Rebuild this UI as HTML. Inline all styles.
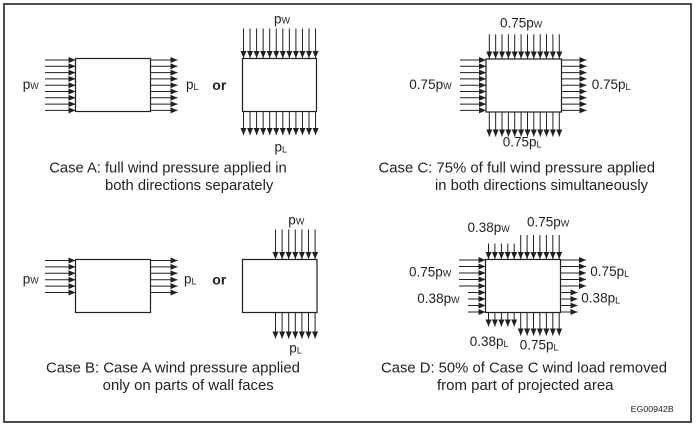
<!DOCTYPE html>
<html><head><meta charset="utf-8">
<style>
html,body{margin:0;padding:0;background:#fff;}
svg{display:block;}
text{font-family:"Liberation Sans",Arial,sans-serif;fill:#231f20;}
.l{font-size:13.5px;}
.c{font-size:14.7px;}
</style></head>
<body>
<svg width="696" height="427" viewBox="0 0 696 427" xmlns="http://www.w3.org/2000/svg">
<defs>
<marker id="a" markerWidth="8" markerHeight="7" refX="7" refY="3" orient="auto" markerUnits="userSpaceOnUse">
<path d="M0,0 L7,3 L0,6 z" fill="#231f20"/>
</marker>
</defs>
<rect x="4" y="4" width="687" height="418" fill="none" stroke="#231f20" stroke-width="1.6"/>

<g stroke="#231f20" stroke-width="1" fill="none" marker-end="url(#a)">
<line x1="45" y1="60" x2="75.5" y2="60"/>
<line x1="45" y1="66.3" x2="75.5" y2="66.3"/>
<line x1="45" y1="72.6" x2="75.5" y2="72.6"/>
<line x1="45" y1="78.9" x2="75.5" y2="78.9"/>
<line x1="45" y1="85.2" x2="75.5" y2="85.2"/>
<line x1="45" y1="91.5" x2="75.5" y2="91.5"/>
<line x1="45" y1="97.8" x2="75.5" y2="97.8"/>
<line x1="45" y1="104.1" x2="75.5" y2="104.1"/>
<line x1="45" y1="110.4" x2="75.5" y2="110.4"/>
<line x1="150.5" y1="60" x2="177.5" y2="60"/>
<line x1="150.5" y1="66.3" x2="177.5" y2="66.3"/>
<line x1="150.5" y1="72.6" x2="177.5" y2="72.6"/>
<line x1="150.5" y1="78.9" x2="177.5" y2="78.9"/>
<line x1="150.5" y1="85.2" x2="177.5" y2="85.2"/>
<line x1="150.5" y1="91.5" x2="177.5" y2="91.5"/>
<line x1="150.5" y1="97.8" x2="177.5" y2="97.8"/>
<line x1="150.5" y1="104.1" x2="177.5" y2="104.1"/>
<line x1="150.5" y1="110.4" x2="177.5" y2="110.4"/>

<line x1="243.5" y1="28.5" x2="243.5" y2="58"/>
<line x1="250.05" y1="28.5" x2="250.05" y2="58"/>
<line x1="256.6" y1="28.5" x2="256.6" y2="58"/>
<line x1="263.15" y1="28.5" x2="263.15" y2="58"/>
<line x1="269.7" y1="28.5" x2="269.7" y2="58"/>
<line x1="276.25" y1="28.5" x2="276.25" y2="58"/>
<line x1="282.8" y1="28.5" x2="282.8" y2="58"/>
<line x1="289.35" y1="28.5" x2="289.35" y2="58"/>
<line x1="295.9" y1="28.5" x2="295.9" y2="58"/>
<line x1="302.45" y1="28.5" x2="302.45" y2="58"/>
<line x1="309" y1="28.5" x2="309" y2="58"/>
<line x1="315.55" y1="28.5" x2="315.55" y2="58"/>
<line x1="243.5" y1="111.5" x2="243.5" y2="135"/>
<line x1="250.05" y1="111.5" x2="250.05" y2="135"/>
<line x1="256.6" y1="111.5" x2="256.6" y2="135"/>
<line x1="263.15" y1="111.5" x2="263.15" y2="135"/>
<line x1="269.7" y1="111.5" x2="269.7" y2="135"/>
<line x1="276.25" y1="111.5" x2="276.25" y2="135"/>
<line x1="282.8" y1="111.5" x2="282.8" y2="135"/>
<line x1="289.35" y1="111.5" x2="289.35" y2="135"/>
<line x1="295.9" y1="111.5" x2="295.9" y2="135"/>
<line x1="302.45" y1="111.5" x2="302.45" y2="135"/>
<line x1="309" y1="111.5" x2="309" y2="135"/>
<line x1="315.55" y1="111.5" x2="315.55" y2="135"/>

<line x1="460" y1="60" x2="486" y2="60"/>
<line x1="460" y1="66.3" x2="486" y2="66.3"/>
<line x1="460" y1="72.6" x2="486" y2="72.6"/>
<line x1="460" y1="78.9" x2="486" y2="78.9"/>
<line x1="460" y1="85.2" x2="486" y2="85.2"/>
<line x1="460" y1="91.5" x2="486" y2="91.5"/>
<line x1="460" y1="97.8" x2="486" y2="97.8"/>
<line x1="460" y1="104.1" x2="486" y2="104.1"/>
<line x1="460" y1="110.4" x2="486" y2="110.4"/>
<line x1="561.5" y1="60" x2="586.5" y2="60"/>
<line x1="561.5" y1="66.3" x2="586.5" y2="66.3"/>
<line x1="561.5" y1="72.6" x2="586.5" y2="72.6"/>
<line x1="561.5" y1="78.9" x2="586.5" y2="78.9"/>
<line x1="561.5" y1="85.2" x2="586.5" y2="85.2"/>
<line x1="561.5" y1="91.5" x2="586.5" y2="91.5"/>
<line x1="561.5" y1="97.8" x2="586.5" y2="97.8"/>
<line x1="561.5" y1="104.1" x2="586.5" y2="104.1"/>
<line x1="561.5" y1="110.4" x2="586.5" y2="110.4"/>
<line x1="489.3" y1="34.3" x2="489.3" y2="58.5"/>
<line x1="495.66" y1="34.3" x2="495.66" y2="58.5"/>
<line x1="502.0" y1="34.3" x2="502.0" y2="58.5"/>
<line x1="508.4" y1="34.3" x2="508.4" y2="58.5"/>
<line x1="514.7" y1="34.3" x2="514.7" y2="58.5"/>
<line x1="521.1" y1="34.3" x2="521.1" y2="58.5"/>
<line x1="527.5" y1="34.3" x2="527.5" y2="58.5"/>
<line x1="533.8" y1="34.3" x2="533.8" y2="58.5"/>
<line x1="540.2" y1="34.3" x2="540.2" y2="58.5"/>
<line x1="546.5" y1="34.3" x2="546.5" y2="58.5"/>
<line x1="552.9" y1="34.3" x2="552.9" y2="58.5"/>
<line x1="559.3" y1="34.3" x2="559.3" y2="58.5"/>
<line x1="489.3" y1="112" x2="489.3" y2="136.5"/>
<line x1="495.66" y1="112" x2="495.66" y2="136.5"/>
<line x1="502.0" y1="112" x2="502.0" y2="136.5"/>
<line x1="508.4" y1="112" x2="508.4" y2="136.5"/>
<line x1="514.7" y1="112" x2="514.7" y2="136.5"/>
<line x1="521.1" y1="112" x2="521.1" y2="136.5"/>
<line x1="527.5" y1="112" x2="527.5" y2="136.5"/>
<line x1="533.8" y1="112" x2="533.8" y2="136.5"/>
<line x1="540.2" y1="112" x2="540.2" y2="136.5"/>
<line x1="546.5" y1="112" x2="546.5" y2="136.5"/>
<line x1="552.9" y1="112" x2="552.9" y2="136.5"/>
<line x1="559.3" y1="112" x2="559.3" y2="136.5"/>

<line x1="45" y1="260.5" x2="75.5" y2="260.5"/>
<line x1="45" y1="266.9" x2="75.5" y2="266.9"/>
<line x1="45" y1="273.3" x2="75.5" y2="273.3"/>
<line x1="45" y1="279.7" x2="75.5" y2="279.7"/>
<line x1="45" y1="286.1" x2="75.5" y2="286.1"/>
<line x1="45" y1="292.5" x2="75.5" y2="292.5"/>
<line x1="150.5" y1="260.5" x2="177.5" y2="260.5"/>
<line x1="150.5" y1="266.9" x2="177.5" y2="266.9"/>
<line x1="150.5" y1="273.3" x2="177.5" y2="273.3"/>
<line x1="150.5" y1="279.7" x2="177.5" y2="279.7"/>
<line x1="150.5" y1="286.1" x2="177.5" y2="286.1"/>
<line x1="150.5" y1="292.5" x2="177.5" y2="292.5"/>
<line x1="275.5" y1="229.5" x2="275.5" y2="259"/>
<line x1="282.1" y1="229.5" x2="282.1" y2="259"/>
<line x1="288.7" y1="229.5" x2="288.7" y2="259"/>
<line x1="295.3" y1="229.5" x2="295.3" y2="259"/>
<line x1="301.9" y1="229.5" x2="301.9" y2="259"/>
<line x1="308.5" y1="229.5" x2="308.5" y2="259"/>
<line x1="315.1" y1="229.5" x2="315.1" y2="259"/>
<line x1="275.5" y1="312.5" x2="275.5" y2="338.5"/>
<line x1="282.1" y1="312.5" x2="282.1" y2="338.5"/>
<line x1="288.7" y1="312.5" x2="288.7" y2="338.5"/>
<line x1="295.3" y1="312.5" x2="295.3" y2="338.5"/>
<line x1="301.9" y1="312.5" x2="301.9" y2="338.5"/>
<line x1="308.5" y1="312.5" x2="308.5" y2="338.5"/>
<line x1="315.1" y1="312.5" x2="315.1" y2="338.5"/>

<line x1="459" y1="260" x2="485.5" y2="260"/>
<line x1="459" y1="266.5" x2="485.5" y2="266.5"/>
<line x1="459" y1="273" x2="485.5" y2="273"/>
<line x1="459" y1="279.5" x2="485.5" y2="279.5"/>
<line x1="459" y1="286" x2="485.5" y2="286"/>
<line x1="468" y1="292.5" x2="485.5" y2="292.5"/>
<line x1="468" y1="299" x2="485.5" y2="299"/>
<line x1="468" y1="305.5" x2="485.5" y2="305.5"/>
<line x1="468" y1="312" x2="485.5" y2="312"/>
<line x1="560.5" y1="260" x2="586" y2="260"/>
<line x1="560.5" y1="266.5" x2="586" y2="266.5"/>
<line x1="560.5" y1="273" x2="586" y2="273"/>
<line x1="560.5" y1="279.5" x2="586" y2="279.5"/>
<line x1="560.5" y1="286" x2="586" y2="286"/>
<line x1="560.5" y1="292.5" x2="577.5" y2="292.5"/>
<line x1="560.5" y1="299" x2="577.5" y2="299"/>
<line x1="560.5" y1="305.5" x2="577.5" y2="305.5"/>
<line x1="560.5" y1="312" x2="577.5" y2="312"/>
<line x1="488.5" y1="243.5" x2="488.5" y2="259"/>
<line x1="494.9" y1="243.5" x2="494.9" y2="259"/>
<line x1="501.4" y1="243.5" x2="501.4" y2="259"/>
<line x1="507.8" y1="243.5" x2="507.8" y2="259"/>
<line x1="514.2" y1="243.5" x2="514.2" y2="259"/>
<line x1="520.7" y1="235" x2="520.7" y2="259"/>
<line x1="527.1" y1="235" x2="527.1" y2="259"/>
<line x1="533.5" y1="235" x2="533.5" y2="259"/>
<line x1="539.9" y1="235" x2="539.9" y2="259"/>
<line x1="546.4" y1="235" x2="546.4" y2="259"/>
<line x1="552.8" y1="235" x2="552.8" y2="259"/>
<line x1="559.2" y1="235" x2="559.2" y2="259"/>
<line x1="488.5" y1="312.5" x2="488.5" y2="326.5"/>
<line x1="494.9" y1="312.5" x2="494.9" y2="326.5"/>
<line x1="501.4" y1="312.5" x2="501.4" y2="326.5"/>
<line x1="507.8" y1="312.5" x2="507.8" y2="326.5"/>
<line x1="514.2" y1="312.5" x2="514.2" y2="326.5"/>
<line x1="520.7" y1="312.5" x2="520.7" y2="335.5"/>
<line x1="527.1" y1="312.5" x2="527.1" y2="335.5"/>
<line x1="533.5" y1="312.5" x2="533.5" y2="335.5"/>
<line x1="539.9" y1="312.5" x2="539.9" y2="335.5"/>
<line x1="546.4" y1="312.5" x2="546.4" y2="335.5"/>
<line x1="552.8" y1="312.5" x2="552.8" y2="335.5"/>
<line x1="559.2" y1="312.5" x2="559.2" y2="335.5"/>
</g>

<g fill="#fff" stroke="#231f20" stroke-width="1.2">
<rect x="75.5" y="58.5" width="75" height="53"/>
<rect x="242.5" y="58.5" width="74" height="53"/>
<rect x="486" y="59" width="75.5" height="53"/>
<rect x="75.5" y="259.5" width="75" height="53"/>
<rect x="242.5" y="259.5" width="74.5" height="53"/>
<rect x="485.5" y="259.5" width="75" height="53"/>
</g>

<text class="l" x="22.7" y="89">p<tspan font-size="9">W</tspan></text>
<text class="l" x="186" y="89">p<tspan font-size="9" dy="1">L</tspan></text>
<text x="212.3" y="90" font-size="14" font-weight="bold">or</text>
<text class="l" x="274" y="23.5">p<tspan font-size="9">W</tspan></text>
<text class="l" x="274.5" y="151.5">p<tspan font-size="9" dy="1">L</tspan></text>

<text class="l" x="500" y="27.5">0.75p<tspan font-size="9">W</tspan></text>
<text class="l" x="409.3" y="89">0.75p<tspan font-size="9">W</tspan></text>
<text class="l" x="591.7" y="89">0.75p<tspan font-size="9" dy="1">L</tspan></text>
<text class="l" x="502.7" y="146.5">0.75p<tspan font-size="9" dy="1">L</tspan></text>

<text class="l" x="22.7" y="283.5">p<tspan font-size="9">W</tspan></text>
<text class="l" x="184" y="283.5">p<tspan font-size="9" dy="1">L</tspan></text>
<text x="212.3" y="284.5" font-size="14" font-weight="bold">or</text>
<text class="l" x="288.3" y="224.5">p<tspan font-size="9">W</tspan></text>
<text class="l" x="289.3" y="352.5">p<tspan font-size="9" dy="1">L</tspan></text>

<text class="l" x="467.5" y="232">0.38p<tspan font-size="9">W</tspan></text>
<text class="l" x="527" y="226.5">0.75p<tspan font-size="9">W</tspan></text>
<text class="l" x="409" y="276.5">0.75p<tspan font-size="9">W</tspan></text>
<text class="l" x="417.3" y="303">0.38p<tspan font-size="9">W</tspan></text>
<text class="l" x="590.3" y="276">0.75p<tspan font-size="9" dy="1">L</tspan></text>
<text class="l" x="581.3" y="302.5">0.38p<tspan font-size="9" dy="1">L</tspan></text>
<text class="l" x="469.7" y="346">0.38p<tspan font-size="9" dy="1">L</tspan></text>
<text class="l" x="519.7" y="349.5">0.75p<tspan font-size="9" dy="1">L</tspan></text>

<text class="c" x="49.3" y="172.5" textLength="237.4" lengthAdjust="spacingAndGlyphs">Case A: full wind pressure applied in</text>
<text class="c" x="105" y="190" textLength="168.3" lengthAdjust="spacingAndGlyphs">both directions separately</text>
<text class="c" x="378.5" y="172.5" textLength="276.5" lengthAdjust="spacingAndGlyphs">Case C: 75% of full wind pressure applied</text>
<text class="c" x="435" y="190" textLength="213" lengthAdjust="spacingAndGlyphs">in both directions simultaneously</text>
<text class="c" x="46" y="372.5" textLength="254" lengthAdjust="spacingAndGlyphs">Case B: Case A wind pressure applied</text>
<text class="c" x="102.7" y="390" textLength="171" lengthAdjust="spacingAndGlyphs">only on parts of wall faces</text>
<text class="c" x="381" y="372.5" textLength="286" lengthAdjust="spacingAndGlyphs">Case D: 50% of Case C wind load removed</text>
<text class="c" x="437" y="390" textLength="176.5" lengthAdjust="spacingAndGlyphs">from part of projected area</text>

<text x="630.7" y="412" font-size="8.5" textLength="43" lengthAdjust="spacingAndGlyphs">EG00942B</text>
</svg>
</body></html>
